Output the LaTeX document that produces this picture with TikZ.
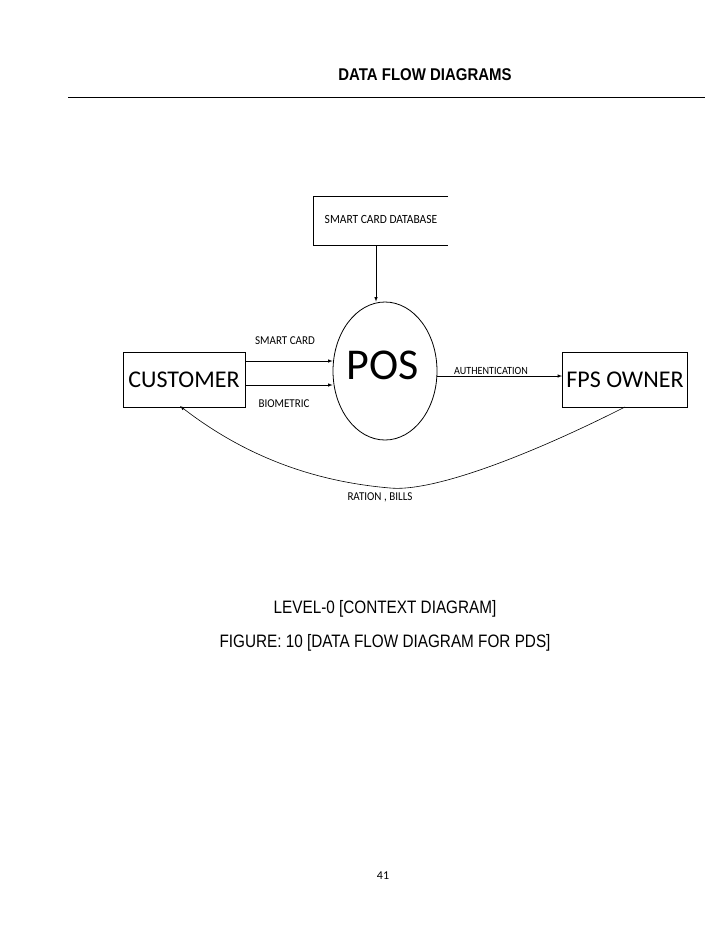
\documentclass[tikz,border=0pt]{standalone}
\usepackage{fontspec}
\usetikzlibrary{shapes.geometric}
\setmainfont{Carlito}
\newfontfamily\arialf{Liberation Sans}
\begin{document}
\begin{tikzpicture}[x=1pt,y=-1pt,>=latex,
  ent/.style={draw,thick,minimum width=122pt,minimum height=55pt,inner sep=0pt,font=\fontsize{24}{24}\selectfont},
  lbl/.style={font=\fontsize{12}{12}\selectfont,inner sep=1pt},
  flow/.style={->,semithick}]
\useasboundingbox (0,0) rectangle (728,943);
\node[font=\arialf\bfseries\fontsize{17}{17}\selectfont,xscale=0.88] (title) at (425,75) {DATA FLOW DIAGRAMS};
\draw[semithick] (68,97) coordinate (l1) -- (705,97) coordinate (l2);
% data store
\coordinate (dsA) at (448,196);
\coordinate (dsB) at (313,196);
\coordinate (dsC) at (313,245);
\coordinate (dsD) at (448,245);
\draw[semithick] (dsA) -- (dsB) -- (dsC) -- (dsD);
\node[lbl,font=\fontsize{12.5}{12.5}\selectfont,xscale=0.92] (ds) at (381,219) {SMART CARD DATABASE};
\coordinate (dsbot) at (376,245);
\node[draw,thick,ellipse,minimum width=104pt,minimum height=138pt,inner sep=0pt] (pos) at (385,371) {};
\node[font=\fontsize{44}{44}\selectfont] (postxt) at (383,365) {POS};
\node[ent] (cust) at (184,380) {CUSTOMER};
\node[ent,minimum width=125pt] (fps) at (625,380) {FPS OWNER};
\draw[flow] (dsbot) -- (dsbot |- pos.north);
\draw[flow] (cust.east |- 0,361) -- (pos.west |- 0,361) ;
\draw[flow] (cust.east |- 0,385) -- (pos.west |- 0,385);
\draw[flow] (pos.east |- 0,376) -- (fps.west |- 0,376);
\node[lbl,xscale=0.92] (sc) at (285,341) {SMART CARD};
\node[lbl,xscale=0.92] (bio) at (284,404) {BIOMETRIC};
\node[lbl,font=\fontsize{11}{11}\selectfont,xscale=0.92] (auth) at (491,371) {AUTHENTICATION};
\coordinate (fb) at (625,407);
\coordinate (ct) at (180,406);
\draw[flow] (fb) .. controls (520,460) and (430,492) .. (390,488) .. controls (320,482) and (250,460) .. (ct);
\node[lbl,xscale=0.92] (rb) at (380,497) {RATION , BILLS};
\node[font=\arialf\fontsize{18}{18}\selectfont,xscale=0.85] (lvl) at (385,609) {LEVEL-0 [CONTEXT DIAGRAM]};
\node[font=\arialf\fontsize{18}{18}\selectfont,xscale=0.85] (fig) at (385,643) {FIGURE: 10 [DATA FLOW DIAGRAM FOR PDS]};
\node[font=\fontsize{12}{12}\selectfont] (pg) at (383,876) {41};
\end{tikzpicture}
\end{document}
